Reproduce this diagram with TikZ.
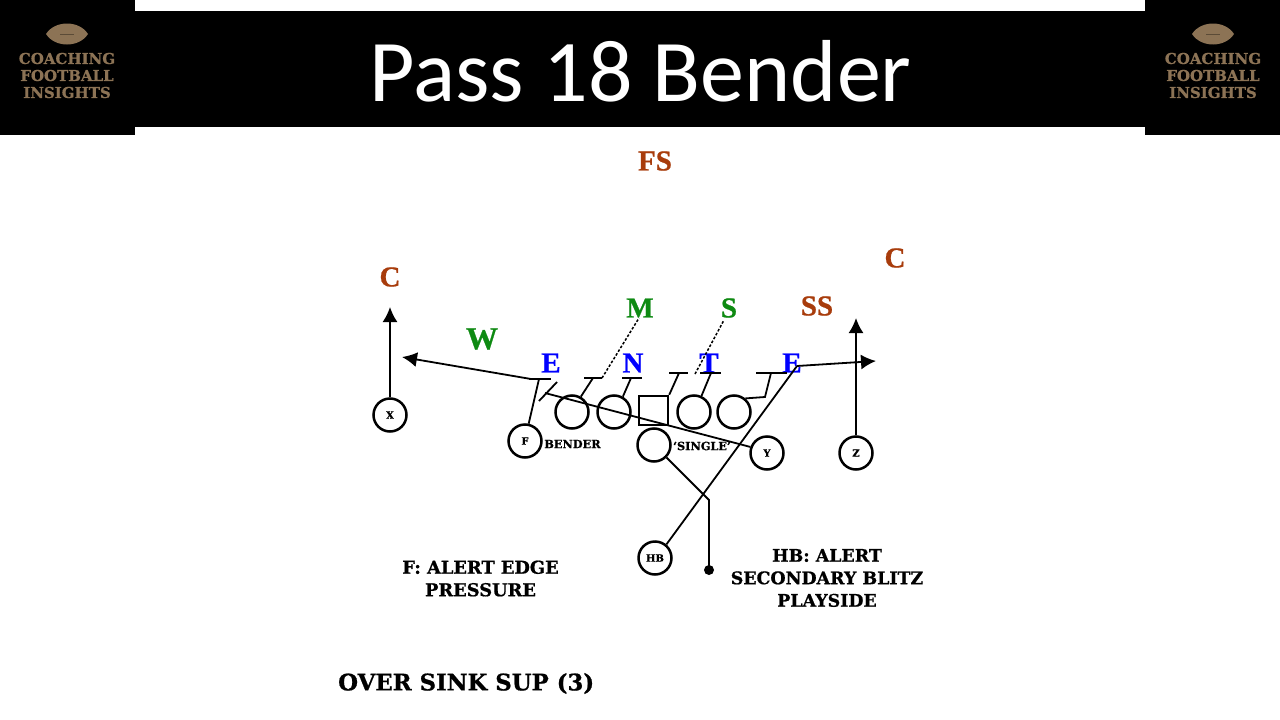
\documentclass[tikz,border=0pt]{standalone}
\usepackage{fontspec}
\setmainfont[BoldFeatures={FakeBold=0.7}]{Liberation Serif}
\newfontfamily\slab[BoldFeatures={FakeBold=0.8}]{DejaVu Serif}
\newfontfamily\titlefont{Carlito}
\usetikzlibrary{arrows.meta}
\definecolor{logobrown}{HTML}{8C7355}
\definecolor{defred}{HTML}{A83C0C}
\definecolor{defgreen}{HTML}{0E8A12}
\tikzset{
  x=1pt,y=-1pt,
  player/.style={circle,draw=black,line width=2.5pt,minimum size=33pt,inner sep=0pt,font=\slab\bfseries\fontsize{10}{10}\selectfont},
  center/.style={rectangle,draw=black,line width=2.5pt,minimum size=29pt,inner sep=0pt},
  route/.style={draw=black,line width=1.8pt},
  arrowroute/.style={route,-{Latex[length=15pt,width=15pt]}},
  assign/.style={draw=black,line width=1.5pt,dash pattern=on 2.6pt off 1.8pt},
  dlabel/.style={font=\bfseries\fontsize{29}{29}\selectfont,inner sep=0pt},
  redl/.style={dlabel,text=defred},
  greenl/.style={dlabel,text=defgreen},
  bluel/.style={dlabel,text=blue},
  note/.style={font=\slab\bfseries\fontsize{17.8}{22.5}\selectfont,align=center,inner sep=0pt},
  small/.style={font=\slab\bfseries\fontsize{11.3}{11.3}\selectfont,inner sep=0pt},
  logotext/.style={font=\slab\bfseries\fontsize{15}{17}\selectfont,text=logobrown,align=center,inner sep=0pt},
}
\begin{document}
\begin{tikzpicture}
\useasboundingbox (0,0) rectangle (1280,720);
\fill[white] (0,0) rectangle (1280,720);
% header
\fill[black] (135,11) rectangle (1145,127);
\fill[black] (0,0) rectangle (135,135);
\fill[black] (1145,0) rectangle (1280,135);
\node[font=\titlefont\fontsize{88}{88}\selectfont,text=white,inner sep=0pt] (title) at (640.5,71) {Pass 18 Bender};
% logos
\foreach \cx/\nm in {67/l,1213/r}{
  \fill[logobrown] (\cx-21,34) .. controls (\cx-12,20) and (\cx+12,20) .. (\cx+21,34) .. controls (\cx+12,48) and (\cx-12,48) .. (\cx-21,34) -- cycle;
  \draw[black!35!logobrown,line width=0.6pt] (\cx-7,34) -- (\cx+7,34);
  \node[logotext] (logo\nm) at (\cx,75.5) {COACHING\\FOOTBALL\\INSIGHTS};
}
% players
\node[player] (x) at (390,415) {X};
\node[player] (f) at (525,441) {F};
\node[player] (lg) at (572,412) {};
\node[player] (lt) at (614,412) {};
\node[center] (c) at (653.5,410.5) {};
\node[player] (rg) at (694,412) {};
\node[player] (rt) at (734,412) {};
\node[player] (y) at (767,453) {Y};
\node[player] (z) at (856,453) {Z};
\node[player] (qb) at (654,445) {};
\node[player] (hb) at (655,558) {HB};
\node[circle,fill=black,minimum size=10pt,inner sep=0pt] (dot) at (709,570) {};
% labels
\node[redl] (fs) at (655,161) {FS};
\node[redl] (cl) at (390,277) {C};
\node[redl] (cr) at (895,258) {C};
\node[redl] (ss) at (817,306) {SS};
\node[greenl] (m) at (640,308) {M};
\node[greenl] (s) at (729,308) {S};
\node[greenl,font=\bfseries\fontsize{32}{32}\selectfont] (w) at (482,339) {W};
\node[bluel] (e1) at (551,363) {E};
\node[bluel] (n) at (633,363) {N};
\node[bluel] (t) at (709,363) {T};
\node[bluel] (e2) at (792,363) {E};
\node[small] (bender) at (572.5,444) {BENDER};
\node[small] (single) at (702,446) {‘SINGLE’};
\node[note] (n1) at (480.5,578.5) {F: ALERT EDGE\\PRESSURE};
\node[note,font=\slab\bfseries\fontsize{17.4}{22.5}\selectfont] (n2) at (827,578) {HB: ALERT\\SECONDARY BLITZ\\PLAYSIDE};
\node[font=\slab\bfseries\fontsize{22.8}{22.8}\selectfont,inner sep=0pt,anchor=west] (call) at (338,683.5) {OVER SINK SUP (3)};
% free route ends
\coordinate (xtip) at (390,307);
\coordinate (ztip) at (856,318);
\coordinate (etip1) at (402,357);
\coordinate (etip2) at (876,361);
\coordinate (ebl) at (531,379);
\coordinate (ebr) at (797,366);
\coordinate (cuta) at (539,401);
\coordinate (cutb) at (557,382);
\coordinate (cutc) at (545,393);
\coordinate (fblk) at (539,379);
\coordinate (lgb) at (593,378);
\coordinate (ltb) at (631,378);
\coordinate (cb) at (679,373);
\coordinate (rgb) at (711,373);
\coordinate (rtk1) at (765,397);
\coordinate (rtk2) at (771,373);
\coordinate (sngl) at (709,500);
\coordinate (mend) at (639,318);
\coordinate (send) at (724,320);
\coordinate (mst) at (602,378);
\coordinate (sst) at (695,374);
% routes
\draw[arrowroute] (x.north) -- (xtip);
\draw[arrowroute] (z.north) -- (ztip);
\draw[arrowroute] (ebl) -- (etip1);
\draw[arrowroute] (ebr) -- (etip2);
\draw[route] (f.78) -- (fblk);
\draw[route] (529,379) -- (551,379);
\draw[route] (cuta) -- (cutb);
\draw[route] (y.160) -- (cutc);
\draw[route] (lg.60) -- (lgb);
\draw[route] (584,378) -- (602,378);
\draw[route] (lt.60) -- (ltb);
\draw[route] (622,378) -- (642,378);
\draw[route] (c.north east) -- (cb);
\draw[route] (669,373) -- (688,373);
\draw[route] (rg.65) -- (rgb);
\draw[route] (700,373) -- (721,373);
\draw[route] (rt.50) -- (rtk1) -- (rtk2);
\draw[route] (756,373) -- (787,373);
\draw[route] (hb.50) -- (ebr);
\draw[route] (qb.-45) -- (sngl) -- (dot.center);
\draw[assign] (mst) -- (mend);
\draw[assign] (sst) -- (send);
\end{tikzpicture}
\end{document}
